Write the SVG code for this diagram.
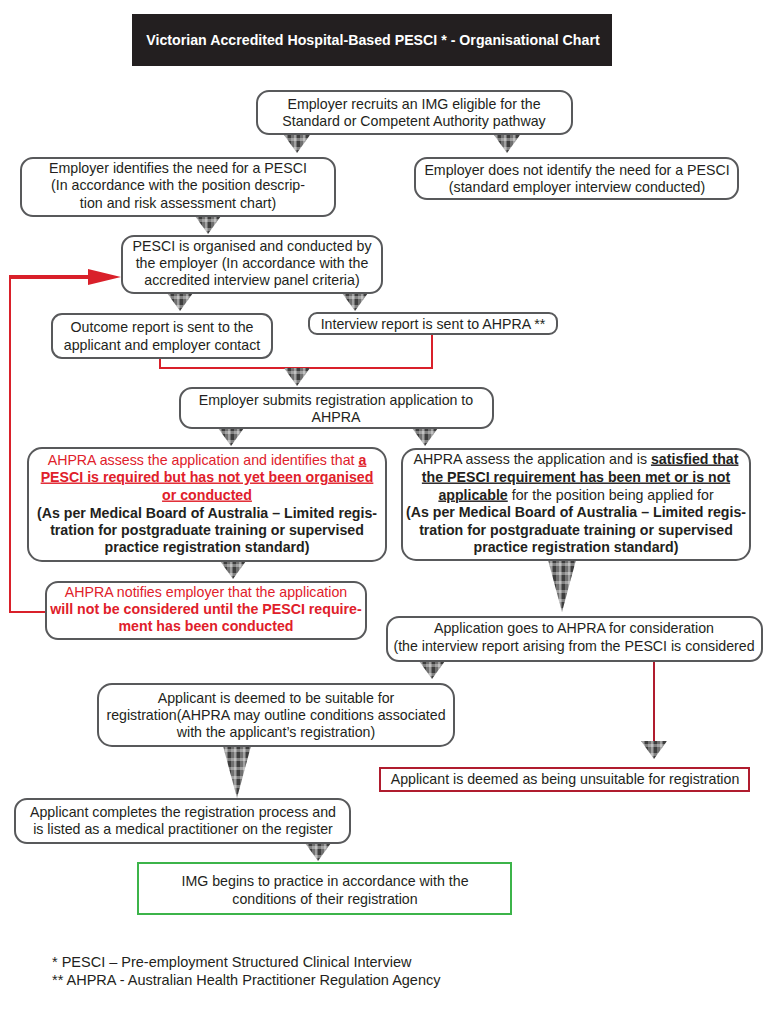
<svg xmlns="http://www.w3.org/2000/svg" width="768" height="1024" viewBox="0 0 768 1024">
<defs>
<style>
text{font-family:"Liberation Sans",Arial,sans-serif;font-size:14.2px;fill:#231f20;text-anchor:middle}
.box{fill:#fff;stroke:#58595b;stroke-width:2}
.red{fill:#e0202a}
.b{font-weight:bold}
.u{text-decoration:underline}
.rl{fill:none;stroke:#d9202a;stroke-width:2}
.fn{text-anchor:start;font-size:14.5px}
</style>
<pattern id="plaid" width="9" height="9" patternUnits="userSpaceOnUse">
<rect width="9" height="9" fill="#707070"/>
<rect x="0" width="3" height="9" fill="#3e3e3e"/>
<rect x="6" width="2" height="9" fill="#a0a0a0"/>
<rect y="3" width="9" height="3" fill="#fff" fill-opacity="0.35"/>
</pattern>
<path id="sa" d="M-13,0 L13,0 L0,18 Z" fill="url(#plaid)"/>
<path id="ba" d="M-14,0 L14,0 L0,52 Z" fill="url(#plaid)"/>
</defs>
<rect width="768" height="1024" fill="#fff"/>

<g id="title">
<rect x="132" y="14" width="480" height="52" fill="#231f20"/>
<text x="373" y="45" class="b" style="fill:#fff">Victorian Accredited Hospital-Based PESCI * - Organisational Chart</text>
</g>

<g id="connectors">
<use href="#sa" x="297" y="135"/>
<use href="#sa" x="507" y="135"/>
<use href="#sa" x="208" y="216"/>
<use href="#sa" x="180" y="293"/>
<use href="#sa" x="355" y="293"/>
<polyline class="rl" points="160,358 160,368 432,368 432,334"/>
<use href="#sa" x="297" y="368"/>
<use href="#sa" x="231" y="428"/>
<use href="#sa" x="425" y="428"/>
<use href="#sa" x="233" y="561"/>
<use href="#ba" x="562" y="560"/>
<polyline class="rl" points="46,612 10,612 10,277"/>
<line x1="9" y1="277" x2="92" y2="277" stroke="#d9202a" stroke-width="4"/>
<path d="M88,269 L121,277 L88,285 Z" fill="#d9202a"/>
<use href="#sa" x="432" y="661"/>
<line x1="654" y1="661" x2="654" y2="742" stroke="#b01c2e" stroke-width="2"/>
<use href="#sa" x="654" y="741"/>
<use href="#ba" x="237" y="746"/>
<use href="#sa" x="318" y="843"/>
</g>

<g id="n1">
<rect class="box" x="257" y="91" width="315" height="43" rx="12"/>
<text x="414" y="108.5">Employer recruits an IMG eligible for the</text>
<text x="414" y="126">Standard or Competent Authority pathway</text>
</g>
<g id="n2">
<rect class="box" x="21" y="158" width="314" height="58" rx="12"/>
<text x="178" y="172.5">Employer identifies the need for a PESCI</text>
<text x="178" y="190">(In accordance with the position descrip-</text>
<text x="178" y="207.5">tion and risk assessment chart)</text>
</g>
<g id="n3">
<rect class="box" x="415" y="158" width="323" height="41" rx="12"/>
<text x="577" y="174.5">Employer does not identify the need for a PESCI</text>
<text x="577" y="191.5">(standard employer interview conducted)</text>
</g>
<g id="n4">
<rect class="box" x="122" y="236" width="260" height="57" rx="12"/>
<text x="252" y="251">PESCI is organised and conducted by</text>
<text x="252" y="268">the employer (In accordance with the</text>
<text x="252" y="285">accredited interview panel criteria)</text>
</g>
<g id="n5">
<rect class="box" x="52" y="314" width="220" height="44" rx="10"/>
<text x="162" y="331.5">Outcome report is sent to the</text>
<text x="162" y="349.5">applicant and employer contact</text>
</g>
<g id="n6">
<rect class="box" x="309" y="313" width="248" height="21" rx="8"/>
<text x="433" y="328.5">Interview report is sent to AHPRA **</text>
</g>
<g id="n7">
<rect class="box" x="180" y="388" width="313" height="40" rx="12"/>
<text x="336" y="404.5">Employer submits registration application to</text>
<text x="336" y="421.5">AHPRA</text>
</g>
<g id="n8">
<rect class="box" x="28" y="448" width="358" height="113" rx="14"/>
<text x="207" y="464.5" class="red">AHPRA assess the application and identifies that <tspan class="b u">a</tspan></text>
<text x="207" y="481.5" class="red b u">PESCI is required but has not yet been organised</text>
<text x="207" y="499.5" class="red b u">or conducted </text>
<text x="207" y="517.5" class="b">(As per Medical Board of Australia – Limited regis-</text>
<text x="207" y="534.5" class="b">tration for postgraduate training or supervised</text>
<text x="207" y="551.5" class="b">practice registration standard)</text>
</g>
<g id="n9">
<rect class="box" x="46" y="582" width="320" height="57" rx="12"/>
<text x="206" y="596.5" class="red">AHPRA notifies employer that the application</text>
<text x="206" y="613.5" class="red b">will not be considered until the PESCI require-</text>
<text x="206" y="630.5" class="red b">ment has been conducted</text>
</g>
<g id="n10">
<rect class="box" x="402" y="449" width="348" height="111" rx="14"/>
<text x="576" y="463.5">AHPRA assess the application and is <tspan class="b u">satisfied that</tspan></text>
<text x="576" y="481.5" class="b u">the PESCI requirement has been met or is not</text>
<text x="576" y="499.5"><tspan class="b u">applicable</tspan> for the position being applied for</text>
<text x="576" y="516.5" class="b">(As per Medical Board of Australia – Limited regis-</text>
<text x="576" y="534.5" class="b">tration for postgraduate training or supervised</text>
<text x="576" y="551.5" class="b">practice registration standard)</text>
</g>
<g id="n11">
<rect class="box" x="387" y="617" width="375" height="44" rx="12"/>
<text x="574" y="632.5">Application goes to AHPRA for consideration</text>
<text x="574" y="650.5">(the interview report arising from the PESCI is considered</text>
</g>
<g id="n12">
<rect x="380" y="768" width="369" height="23" fill="#fff" stroke="#b01c2e" stroke-width="2"/>
<text x="565" y="783.5">Applicant is deemed as being unsuitable for registration</text>
</g>
<g id="n13">
<rect class="box" x="98" y="684" width="356" height="62" rx="14"/>
<text x="276" y="702.5">Applicant is deemed to be suitable for</text>
<text x="276" y="719.5">registration(AHPRA may outline conditions associated</text>
<text x="276" y="736.5">with the applicant’s registration)</text>
</g>
<g id="n14">
<rect class="box" x="15" y="799" width="335" height="44" rx="12"/>
<text x="183" y="816.5">Applicant completes the registration process and</text>
<text x="183" y="833.5">is listed as a medical practitioner on the register</text>
</g>
<g id="n15">
<rect x="138" y="863" width="373" height="51" fill="#fff" stroke="#3cb44a" stroke-width="2"/>
<text x="325" y="885.5">IMG begins to practice in accordance with the</text>
<text x="325" y="903.5">conditions of their registration</text>
</g>
<g id="footnotes">
<text x="52" y="967" class="fn">* PESCI – Pre-employment Structured Clinical Interview</text>
<text x="52" y="985" class="fn">** AHPRA - Australian Health Practitioner Regulation Agency</text>
</g>
</svg>
